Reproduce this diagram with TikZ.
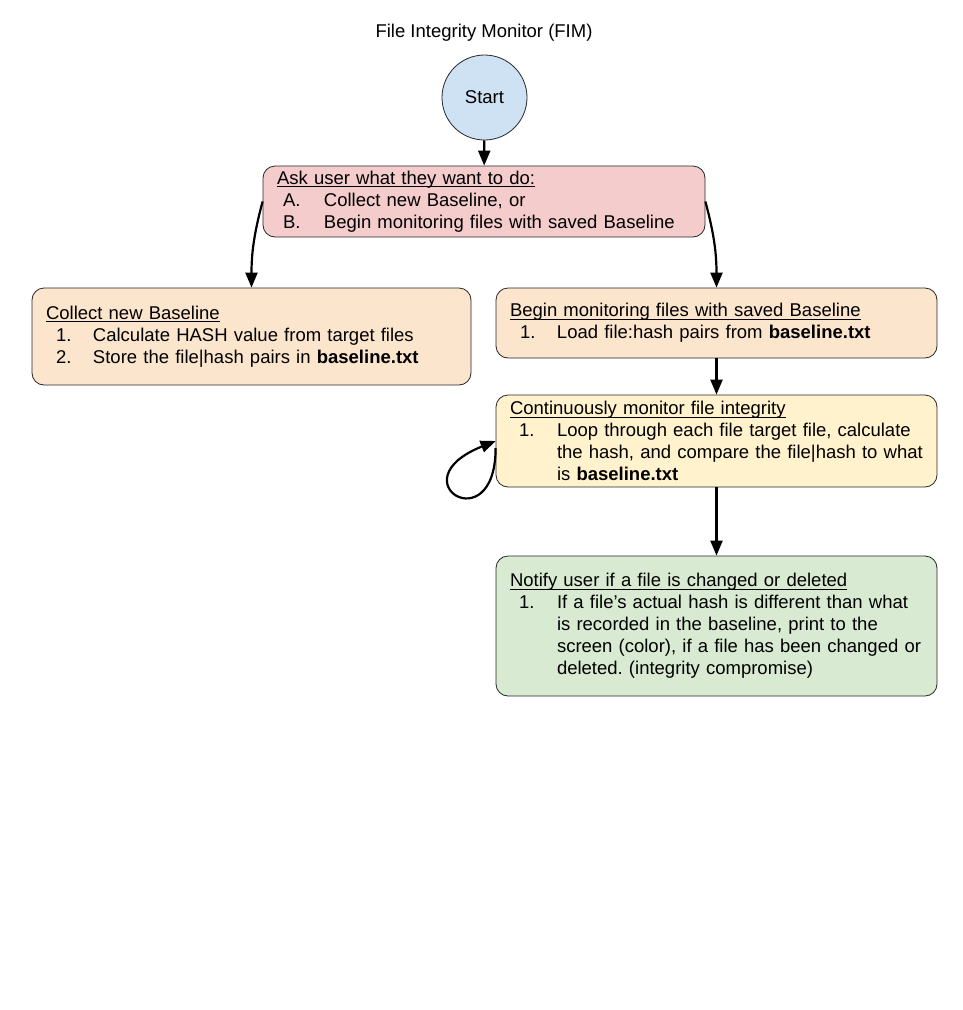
\documentclass[tikz,border=0pt]{standalone}
\usepackage{fontspec}
\setmainfont{Liberation Sans}
\usetikzlibrary{arrows.meta}
\definecolor{startblue}{HTML}{CFE2F3}
\definecolor{askred}{HTML}{F4CCCC}
\definecolor{lightorange}{HTML}{FCE5CD}
\definecolor{lightyellow}{HTML}{FFF2CC}
\definecolor{lightgreen}{HTML}{D9EAD3}
\frenchspacing
\newcommand\ttl[1]{\setbox0\hbox{#1}\rlap{\rule[-3pt]{\wd0}{1.1pt}}\box0}
\newcommand\itm[3][10pt]{\mbox{\hspace*{#1}\makebox[\dimexpr47pt-#1\relax][l]{#2}#3}}
\newcommand\cont[1]{\mbox{\hspace*{47pt}#1}}
\tikzset{
  box/.style={draw=black!85, line width=0.8pt, rounded corners=12pt, align=left, inner xsep=14pt, inner ysep=2pt, font=\fontsize{18.5}{22}\selectfont},
  arr/.style={-{Triangle[length=15pt,width=12pt]}, line width=2.2pt},
}
\begin{document}
\begin{tikzpicture}[x=1pt,y=1pt]
\useasboundingbox[fill=white] (0,0) rectangle (962,-1010);
\node[font=\fontsize{18.5}{22}\selectfont] (title) at (484,-33) {File Integrity Monitor (FIM)};
\node[circle, draw=black!85, line width=0.8pt, fill=startblue, minimum size=85pt, inner sep=0pt, font=\fontsize{18.5}{22}\selectfont] (start) at (484.5,-97.5) {Start};
\node[box, fill=askred, text width=414pt, minimum height=71pt] (ask) at (484,-201.5) {\ttl{Ask user what they want to do:}\\
\itm[6pt]{A.}{Collect new Baseline, or}\\
\itm[6pt]{B.}{Begin monitoring files with saved Baseline}};
\node[box, fill=lightorange, text width=411pt, minimum height=97pt] (collect) at (251.5,-336.5) {\ttl{Collect new Baseline}\\
\itm{1.}{Calculate HASH value from target files}\\
\itm{2.}{Store the file|hash pairs in \textbf{baseline.txt}}};
\node[box, fill=lightorange, text width=413pt, minimum height=70pt] (begin) at (716.5,-323) {\ttl{Begin monitoring files with saved Baseline}\\
\itm{1.}{Load file:hash pairs from \textbf{baseline.txt}}};
\node[box, fill=lightyellow, text width=413pt, minimum height=92pt] (monitor) at (716.5,-441) {\ttl{Continuously monitor file integrity}\\
\itm[9pt]{1.}{Loop through each file target file, calculate}\\
\cont{the hash, and compare the file|hash to what}\\
\cont{is \textbf{baseline.txt}}};
\node[box, fill=lightgreen, text width=413pt, minimum height=140pt] (notify) at (716.5,-626) {\ttl{Notify user if a file is changed or deleted}\\
\itm[9pt]{1.}{If a file's actual hash is different than what}\\
\cont{is recorded in the baseline, print to the}\\
\cont{screen (color), if a file has been changed or}\\
\cont{deleted. (integrity compromise)}};
\draw[arr] (start) -- (ask);
\draw[arr] (ask.west) to[out=-105, in=90] (collect.north);
\draw[arr] (ask.east) to[out=-75, in=90] (begin.north);
\draw[arr] (begin) -- (monitor);
\draw[arr] (monitor) -- (notify);
\draw[arr] ([yshift=-7pt]monitor.west) .. controls +(0,-95) and +(-100,-40) .. (monitor.west);
\end{tikzpicture}
\end{document}
